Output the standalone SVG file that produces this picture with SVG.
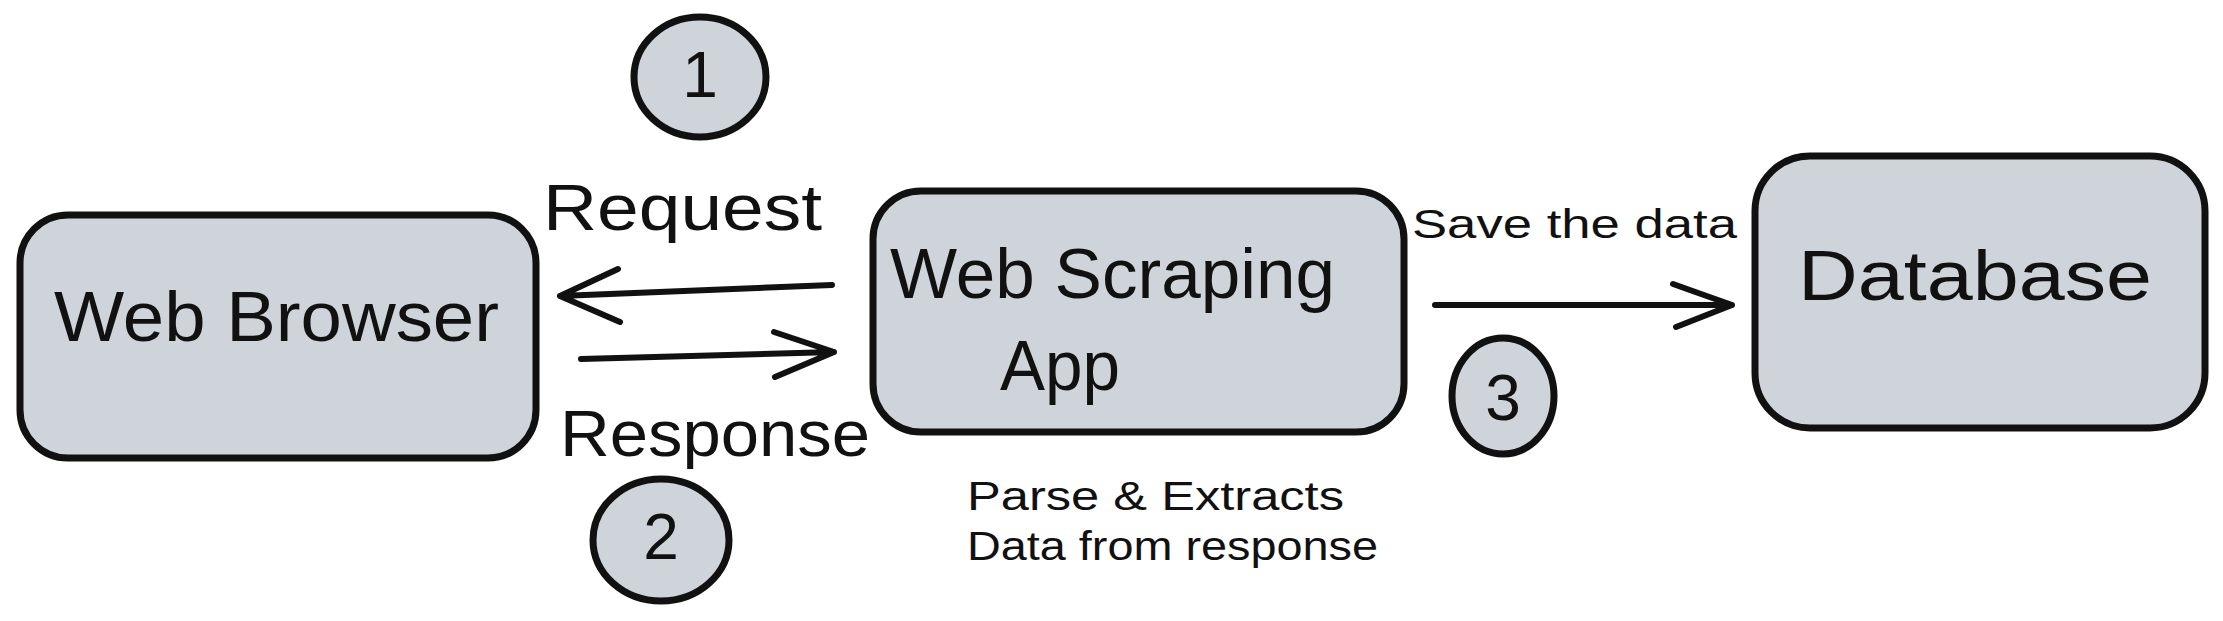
<svg xmlns="http://www.w3.org/2000/svg" width="2223" height="621" viewBox="0 0 2223 621">
<defs>
<style>
.box{fill:#ced4da;stroke:#111111;stroke-width:7}
.lbl{font-family:"Liberation Sans",Arial,sans-serif;fill:#111111}
.big{font-size:71px}
.mid{font-size:65px}
.sm{font-size:40px}
.num{font-size:64px;text-anchor:middle}
.edge{fill:none;stroke:#111111;stroke-width:6;stroke-linecap:round;stroke-linejoin:round}
</style>
</defs>
<rect width="2223" height="621" fill="#ffffff"/>
<g id="node-web-browser">
<rect class="box" x="20" y="215" width="516" height="243" rx="48"/>
<text class="lbl big" x="54" y="341" textLength="445" lengthAdjust="spacingAndGlyphs">Web Browser</text>
</g>
<g id="node-web-scraping-app">
<rect class="box" x="873" y="191" width="531" height="241" rx="48"/>
<text class="lbl big" x="890" y="298" textLength="445" lengthAdjust="spacingAndGlyphs">Web Scraping</text>
<text class="lbl big" x="1000" y="390" textLength="120" lengthAdjust="spacingAndGlyphs">App</text>
</g>
<g id="node-database">
<rect class="box" x="1755" y="156" width="450" height="272" rx="55"/>
<text class="lbl big" x="1798" y="300" textLength="354" lengthAdjust="spacingAndGlyphs">Database</text>
</g>
<g id="node-step-1">
<ellipse class="box" cx="700" cy="77" rx="66" ry="60"/>
<text class="lbl num" x="700" y="97">1</text>
</g>
<g id="node-step-2">
<ellipse class="box" cx="661" cy="540" rx="68" ry="61"/>
<text class="lbl num" x="661" y="559">2</text>
</g>
<g id="node-step-3">
<ellipse class="box" cx="1503" cy="396" rx="51" ry="58"/>
<text class="lbl num" x="1503" y="420">3</text>
</g>
<g id="connectors">
<path class="edge" d="M832 285 L560 296 M618 269 L560 296 L620 322"/>
<path class="edge" d="M581 359 L834 352 M774 332 L834 352 L775 377"/>
<path class="edge" d="M1435 305 L1732 305 M1673 284 L1732 305 L1676 327"/>
</g>
<g id="labels">
<text class="lbl mid" x="543" y="230" textLength="279" lengthAdjust="spacingAndGlyphs">Request</text>
<text class="lbl mid" x="560" y="456" textLength="310" lengthAdjust="spacingAndGlyphs">Response</text>
<text class="lbl sm" x="1412" y="238" textLength="325" lengthAdjust="spacingAndGlyphs">Save the data</text>
<text class="lbl sm" x="967" y="510" textLength="377" lengthAdjust="spacingAndGlyphs">Parse &amp; Extracts</text>
<text class="lbl sm" x="967" y="560" textLength="411" lengthAdjust="spacingAndGlyphs">Data from response</text>
</g>
</svg>
